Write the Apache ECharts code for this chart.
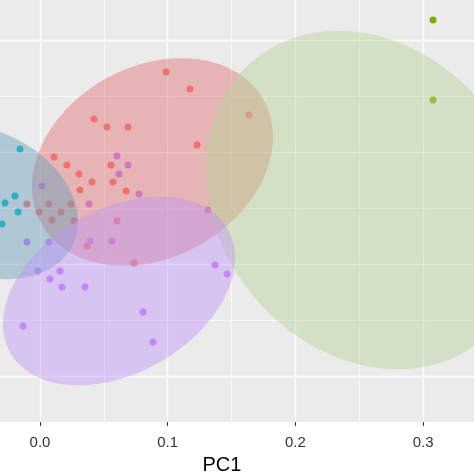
<!DOCTYPE html>
<html>
<head>
<meta charset="utf-8">
<script src="https://cdn.jsdelivr.net/npm/echarts@6/dist/echarts.min.js"></script>
<style>
html, body { margin: 0; padding: 0; background: #fff; }
#main { width: 474px; height: 474px; }
</style>
</head>
<body>
<div id="main"></div>
<script>
// 各组样本点 (PC1, PC2)
var redX = [0.0987, 0.1175, 0.1637, 0.0423, 0.0525, 0.0689, 0.1230, 0.0110, 0.0211, 0.0556, 0.0305, 0.0407, 0.0572, 0.0313, 0.0674, -0.0102, 0.0070, 0.0243, -0.0008, 0.0164, 0.0094, 0.0266, 0.0603, 0.0368, 0.0736]
var redY = [0.0714, 0.0563, 0.0330, 0.0295, 0.0223, 0.0223, 0.0063, -0.0045, -0.0116, -0.0116, -0.0196, -0.0268, -0.0268, -0.0339, -0.0348, -0.0464, -0.0464, -0.0464, -0.0536, -0.0536, -0.0607, -0.0616, -0.0616, -0.0839, -0.0991]
var greenX = [0.3078, 0.3078]
var greenY = [0.1179, 0.0464]
var cyanX = [-0.0157, -0.0196, -0.0274, -0.0172, -0.0298]
var cyanY = [0.0027, -0.0393, -0.0455, -0.0536, -0.0643]
var purpleX = [0.0603, 0.0689, 0.0619, 0.0775, 0.0016, 0.0384, 0.1316, -0.0102, 0.0070, 0.0392, 0.0564, 0.1371, 0.1465, -0.0016, 0.0157, 0.0078, 0.0172, 0.0352, 0.0807, -0.0133, 0.0885]
var purpleY = [-0.0036, -0.0116, -0.0196, -0.0375, -0.0304, -0.0464, -0.0518, -0.0804, -0.0804, -0.0795, -0.0795, -0.1009, -0.1089, -0.1063, -0.1063, -0.1134, -0.1205, -0.1205, -0.1429, -0.1554, -0.1696]

// 置信椭圆：中心 + 两条共轭半径 (红, 绿, 青, 紫)
var ellipseCx = [0.0881, 0.2569, -0.0462, 0.0619]
var ellipseCy = [-0.0089, -0.0429, -0.0443, -0.1241]
var ellipseUx = [0.0944, 0.1272, 0.0760, 0.0851]
var ellipseUy = [0.0222, -0.0277, -0.0179, 0.0553]
var ellipseVx = [0.0000, 0.0000, 0.0000, 0.0318]
var ellipseVy = [-0.0900, 0.1486, 0.0670, -0.0636]

var pointColors = ['#F8766D', '#7CAE00', '#00BFC4', '#C77CFF']
var ellipseFills = ['rgba(224,113,113,0.45)', 'rgba(182,211,151,0.45)', 'rgba(104,157,188,0.45)', 'rgba(191,148,246,0.45)']

function zip(xs, ys) {
    return xs.map(function (x, i) { return [x, ys[i]] })
}

var ellipseData = ellipseCx.map(function (cx, i) {
    return [cx, ellipseCy[i], ellipseUx[i], ellipseUy[i], ellipseVx[i], ellipseVy[i]]
})

function renderEllipse(params, api) {
    var cx = api.value(0), cy = api.value(1)
    var ux = api.value(2), uy = api.value(3)
    var vx = api.value(4), vy = api.value(5)
    var pts = []
    for (var k = 0; k < 96; k++) {
        var t = k / 96 * Math.PI * 2
        var c = Math.cos(t), s = Math.sin(t)
        pts.push(api.coord([cx + c * ux + s * vx, cy + c * uy + s * vy]))
    }
    return {
        type: 'polygon',
        shape: { points: pts },
        style: { fill: ellipseFills[params.dataIndex], stroke: null }
    }
}

var myChart = echarts.init(document.getElementById('main'))

function pointSeries(name, data, color) {
    return {
        name: name,
        type: 'scatter',
        data: data,
        symbol: 'circle',
        symbolSize: 7,
        itemStyle: { color: color, opacity: 1 },
        z: 2,
        silent: true
    }
}

var option = {
    animation: false,
    backgroundColor: '#ffffff',
    grid: {
        show: true,
        backgroundColor: '#EBEBEB',
        borderWidth: 0,
        outerBoundsMode: 'none',
        containLabel: false,
        left: -87.7,
        right: -57.6,
        top: -72,
        bottom: 52
    },
    xAxis: {
        type: 'value',
        min: -0.1,
        max: 0.385,
        interval: 0.1,
        name: 'PC1',
        nameLocation: 'middle',
        nameGap: 33,
        nameTextStyle: { color: '#000', fontSize: 20, fontFamily: 'Liberation Sans' },
        axisLine: { show: false, onZero: false },
        axisTick: { show: true, length: 4, lineStyle: { color: '#333', width: 1 } },
        axisLabel: {
            color: '#333', fontSize: 15, fontFamily: 'Liberation Sans', margin: 13,
            formatter: function (v) { return v.toFixed(1) }
        },
        splitLine: { show: true, lineStyle: { color: '#fff', width: 1.3 } },
        minorTick: { show: false, splitNumber: 2 },
        minorSplitLine: { show: true, lineStyle: { color: '#fff', width: 0.7 } }
    },
    yAxis: {
        type: 'value',
        min: -0.2411,
        max: 0.2,
        splitNumber: 4,
        axisLine: { show: false, onZero: false },
        axisTick: { show: false },
        axisLabel: { show: false },
        splitLine: { show: true, showMinLine: false, lineStyle: { color: '#fff', width: 1.3 } },
        minorTick: { show: false, splitNumber: 2 },
        minorSplitLine: { show: true, lineStyle: { color: '#fff', width: 0.7 } }
    },
    series: [
        pointSeries('1', zip(redX, redY), pointColors[0]),
        pointSeries('2', zip(greenX, greenY), pointColors[1]),
        pointSeries('3', zip(cyanX, cyanY), pointColors[2]),
        pointSeries('4', zip(purpleX, purpleY), pointColors[3]),
        {
            type: 'custom',
            renderItem: renderEllipse,
            data: ellipseData,
            encode: { x: 0, y: 1 },
            z: 3,
            silent: true
        }
    ]
}

myChart.setOption(option)
</script>
</body>
</html>
